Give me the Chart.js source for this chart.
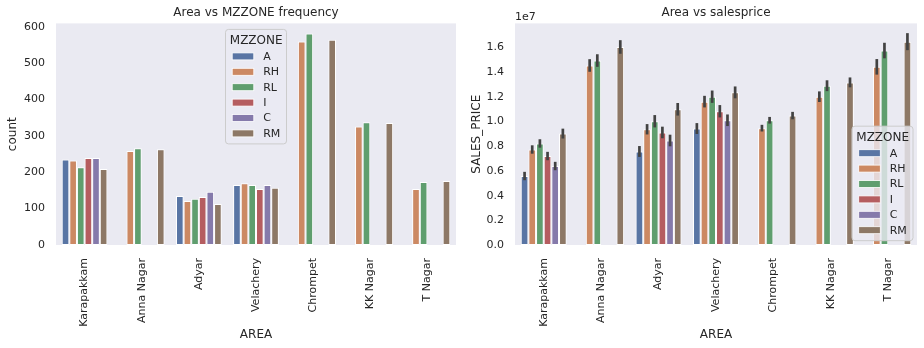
<!DOCTYPE html>
<html>
<head>
<meta charset="utf-8">
<script src="https://cdn.jsdelivr.net/npm/chart.js@4.4.0/dist/chart.umd.min.js"></script>
<style>
body{margin:0;background:#fff;}
#wrap{position:relative;width:924px;height:348px;}
.box{position:absolute;top:0;width:462px;height:348px;}
</style>
</head>
<body>
<div id="wrap">
<div class="box" style="left:0"><canvas id="count" width="462" height="348"></canvas></div>
<div class="box" style="left:462px"><canvas id="price" width="462" height="348"></canvas></div>
</div>
<script>
var areas = ["Karapakkam","Anna Nagar","Adyar","Velachery","Chrompet","KK Nagar","T Nagar"];
var zones = ["A","RH","RL","I","C","RM"];
var zoneColors = ["#5975a4","#cc8963","#5f9e6e","#b55d60","#857aab","#8d7866"];

// counts, one per area (null = zone not in that area)
var countA  = [235, null, 135, 165, null, null, null];
var countRH = [232, 258, 121, 170, 559, 326, 154];
var countRL = [214, 266, 127, 165, 581, 337, 173];
var countI  = [239, null, 132, 154, null, null, null];
var countC  = [239, null, 146, 165, null, null, null];
var countRM = [209, 263, 113, 157, 564, 335, 176];

// mean sales price
var priceA  = [5590000, null, 7580000, 9440000, null, null, null];
var priceRH = [7740000, 14550000, 9380000, 11620000, 9470000, 12020000, 14440000];
var priceRL = [8230000, 14950000, 10030000, 12020000, 10110000, 12910000, 15760000];
var priceI  = [7210000, null, 9120000, 10840000, null, null, null];
var priceC  = [6400000, null, 8470000, 10110000, null, null, null];
var priceRM = [9030000, 16050000, 11000000, 12370000, 10490000, 13180000, 16480000];

// half height of the confidence bars
var errA  = [340000, null, 440000, 440000, null, null, null];
var errRH = [340000, 510000, 420000, 470000, 270000, 430000, 630000];
var errRL = [340000, 510000, 500000, 500000, 270000, 440000, 630000];
var errI  = [340000, null, 470000, 500000, null, null, null];
var errC  = [340000, null, 470000, 470000, null, null, null];
var errRM = [400000, 550000, 510000, 480000, 300000, 400000, 690000];

var countTicks = [0, 100, 200, 300, 400, 500, 600];
var priceTicks = [0, 2000000, 4000000, 6000000, 8000000, 10000000, 12000000, 14000000, 16000000];

Chart.defaults.font.family = "DejaVu Sans";
Chart.defaults.color = "#262626";
Chart.defaults.animation = false;

var TXT = "#262626";

var plotBg = {
    id: "plotBg",
    beforeDraw: function(chart){
        var a = chart.chartArea, ctx = chart.ctx;
        ctx.save();
        ctx.fillStyle = "#eaeaf2";
        ctx.fillRect(a.left, a.top, a.right - a.left, a.bottom - a.top);
        ctx.restore();
    }
};

var errorBars = {
    id: "errorBars",
    afterDatasetsDraw: function(chart, args, opts){
        if(!opts.errors) return;
        var ctx = chart.ctx, y = chart.scales.y;
        ctx.save();
        ctx.strokeStyle = "#424242";
        ctx.lineWidth = 2.7;
        opts.errors.forEach(function(errs, di){
            var meta = chart.getDatasetMeta(di);
            var vals = chart.data.datasets[di].data;
            meta.data.forEach(function(bar, i){
                if(vals[i] == null || errs[i] == null) return;
                ctx.beginPath();
                ctx.moveTo(bar.x, y.getPixelForValue(vals[i] - errs[i]));
                ctx.lineTo(bar.x, y.getPixelForValue(vals[i] + errs[i]));
                ctx.stroke();
            });
        });
        ctx.restore();
    }
};

function roundRect(ctx, x, y, w, h, r){
    ctx.beginPath();
    ctx.moveTo(x + r, y);
    ctx.lineTo(x + w - r, y);
    ctx.quadraticCurveTo(x + w, y, x + w, y + r);
    ctx.lineTo(x + w, y + h - r);
    ctx.quadraticCurveTo(x + w, y + h, x + w - r, y + h);
    ctx.lineTo(x + r, y + h);
    ctx.quadraticCurveTo(x, y + h, x, y + h - r);
    ctx.lineTo(x, y + r);
    ctx.quadraticCurveTo(x, y, x + r, y);
    ctx.closePath();
}

var zoneLegend = {
    id: "zoneLegend",
    afterDraw: function(chart, args, opts){
        var a = chart.chartArea, ctx = chart.ctx;
        var w = 61, h = 114.5, L, T;
        if(opts.where == "upper center"){
            L = (a.left + a.right) / 2 - w / 2;
            T = a.top + 6;
        } else {
            L = a.right - 4 - w;
            T = a.bottom - 4.3 - h;
        }
        ctx.save();
        roundRect(ctx, L, T, w, h, 3);
        ctx.fillStyle = "rgba(234,234,242,0.8)";
        ctx.fill();
        ctx.strokeStyle = "#cccccc";
        ctx.lineWidth = 1;
        ctx.stroke();
        ctx.fillStyle = TXT;
        ctx.textBaseline = "middle";
        ctx.textAlign = "left";
        ctx.font = "12px 'DejaVu Sans'";
        ctx.fillText("MZZONE", L + 4.3, T + 11.5);
        ctx.font = "11px 'DejaVu Sans'";
        zones.forEach(function(z, i){
            var cy = T + 27 + i * 15.4;
            ctx.fillStyle = zoneColors[i];
            ctx.fillRect(L + 6.7, cy - 3.5, 21.6, 7);
            ctx.strokeStyle = "#ffffff";
            ctx.lineWidth = 0.8;
            ctx.strokeRect(L + 6.7, cy - 3.5, 21.6, 7);
            ctx.fillStyle = TXT;
            ctx.fillText(z, L + 37.7, cy + 0.5);
        });
        ctx.restore();
    }
};

var offsetText = {
    id: "offsetText",
    afterDraw: function(chart, args, opts){
        if(!opts.text) return;
        var ctx = chart.ctx;
        ctx.save();
        ctx.fillStyle = TXT;
        ctx.font = "11px 'DejaVu Sans'";
        ctx.textAlign = "left";
        ctx.textBaseline = "alphabetic";
        ctx.fillText(opts.text, chart.chartArea.left, 20);
        ctx.restore();
    }
};

function makeSets(series){
    return series.map(function(s, i){
        return {
            label: zones[i],
            data: s,
            backgroundColor: zoneColors[i],
            borderColor: "#ffffff",
            borderWidth: 1,
            borderSkipped: false,
            categoryPercentage: 0.8,
            barPercentage: 1.0
        };
    });
}

function drawchart(id, title, series, yTitle, yMax, tickVals, tickFmt, yWidth, padRight, yTitlePad, extra){
    var ctx = document.getElementById(id).getContext("2d");
    return new Chart(ctx, {
        type: "bar",
        data: { labels: areas, datasets: makeSets(series) },
        plugins: [plotBg, errorBars, zoneLegend, offsetText],
        options: {
            responsive: false,
            layout: { padding: { left: 0, right: padRight, top: 0, bottom: 0 } },
            plugins: {
                legend: { display: false },
                tooltip: { enabled: false },
                title: {
                    display: true, text: title, color: TXT, fullSize: false,
                    font: { size: 12, weight: "normal" },
                    padding: { top: 6, bottom: 3 }
                },
                errorBars: { errors: extra.errors },
                zoneLegend: { where: extra.legend },
                offsetText: { text: extra.offset }
            },
            scales: {
                x: {
                    grid: { display: false, drawTicks: false },
                    border: { display: false },
                    ticks: { autoSkip: false, maxRotation: 90, minRotation: 90, padding: 13, font: { size: 11 }, color: TXT },
                    title: { display: true, text: "AREA", color: TXT, font: { size: 12 }, padding: { top: 0, bottom: 6 } },
                    afterFit: function(s){ s.height = 103; }
                },
                y: {
                    min: 0, max: yMax,
                    grid: { display: false, drawTicks: false },
                    border: { display: false },
                    afterBuildTicks: function(s){
                        s.ticks = tickVals.map(function(v){ return { value: v }; });
                    },
                    ticks: { autoSkip: false, padding: 11, font: { size: 11 }, color: TXT, callback: tickFmt },
                    title: { display: true, text: yTitle, color: TXT, font: { size: 12 }, padding: { top: yTitlePad, bottom: 0 } },
                    afterFit: function(s){ s.width = yWidth; }
                }
            }
        }
    });
}

window.onload = function(){
    drawchart("count", "Area vs MZZONE frequency",
        [countA, countRH, countRL, countI, countC, countRM],
        "count", 609, countTicks,
        function(v){ return String(v); },
        56, 6, 6,
        { errors: null, legend: "upper center", offset: null });

    drawchart("price", "Area vs salesprice",
        [priceA, priceRH, priceRL, priceI, priceC, priceRM],
        "SALES_PRICE", 17960000, priceTicks,
        function(v){ return (v / 1e7).toFixed(1); },
        53, 7, 8,
        { errors: [errA, errRH, errRL, errI, errC, errRM], legend: "lower right", offset: "1e7" });
};
</script>
</body>
</html>
